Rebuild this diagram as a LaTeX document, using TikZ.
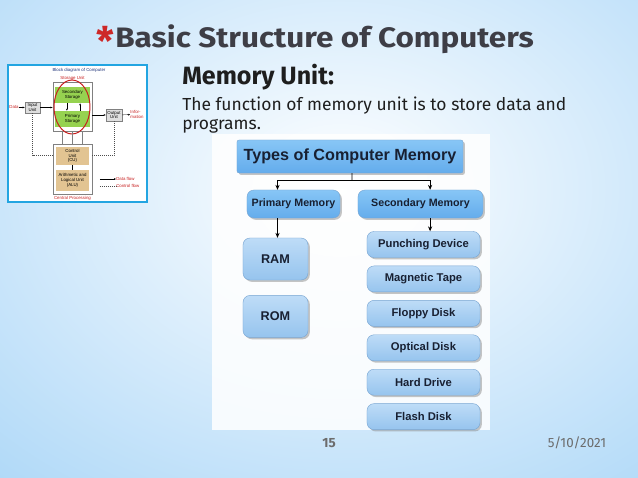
\documentclass[tikz,border=0pt]{standalone}
\usepackage{fontspec}
\setmainfont{Fira Sans}
\newfontfamily\titlefont[FakeStretch=1.12]{Fira Sans}
\newfontfamily\diagfont{Liberation Sans}
\usetikzlibrary{positioning,arrows.meta,shadows,calc}
\definecolor{slideblue}{RGB}{145,202,245}
\definecolor{titlegray}{RGB}{62,62,70}
\definecolor{bodygray}{RGB}{30,30,30}
\definecolor{starred}{RGB}{205,40,40}
\definecolor{headtop}{RGB}{135,198,246}
\definecolor{headbot}{RGB}{100,172,236}
\definecolor{leaftop}{RGB}{190,220,247}
\definecolor{leafbot}{RGB}{150,196,238}
\definecolor{memedge}{RGB}{120,165,210}
\definecolor{memtext}{RGB}{24,32,50}
\definecolor{framecyan}{RGB}{35,165,225}
\definecolor{unitgreen}{RGB}{150,210,80}
\definecolor{unittan}{RGB}{226,196,146}
\definecolor{labelred}{RGB}{200,30,30}
\definecolor{labelblue}{RGB}{30,50,120}
\colorlet{unitgray}{gray!25}
\tikzset{
  memshadow/.style={drop shadow={shadow xshift=1.3pt,shadow yshift=-1.3pt,fill=black!45,opacity=.5}},
  headbox/.style={draw=memedge,line width=.3pt,rounded corners=1.5pt,top color=headtop,bottom color=headbot,memshadow,
    text=memtext,font=\diagfont\bfseries\fontsize{11.5}{13}\selectfont,inner sep=0pt},
  kindbox/.style={headbox,rounded corners=5pt,font=\diagfont\bfseries\fontsize{7.6}{9}\selectfont},
  leafbox/.style={kindbox,top color=leaftop,bottom color=leafbot,font=\diagfont\bfseries\fontsize{8}{9}\selectfont},
  ramrom/.style={leafbox,font=\diagfont\bfseries\fontsize{9}{10}\selectfont,minimum width=1.625cm,minimum height=1.05cm},
  memarrow/.style={-{Stealth[length=3.5pt,width=3pt]},line width=.7pt},
  tiny/.style={font=\diagfont\fontsize{3.1}{3.4}\selectfont,align=center,inner sep=0pt},
  unitbox/.style={tiny,draw=gray,line width=.4pt,fill=unitgray},
  flowline/.style={-{Stealth[length=1.5pt,width=1.3pt]},line width=.3pt},
  ctrlline/.style={densely dotted,line width=.4pt,draw=black!70}
}

\begin{document}
\begin{tikzpicture}[x=0.025cm,y=-0.025cm]
  \useasboundingbox (0,0) rectangle (638,478);
  % slide background
  \fill[slideblue] (0,0) rectangle (638,478);
  \begin{scope}
    \clip (0,0) rectangle (638,478);
    \shade[inner color=white,outer color=slideblue] (340,190) ellipse [x radius=720,y radius=540];
  \end{scope}

  % title
  \node[text=starred,font=\bfseries\fontsize{28}{28}\selectfont,inner sep=0pt] (star) at (105,41) {*};
  \node[anchor=base west,inner sep=0pt,text=titlegray,font=\titlefont\bfseries\fontsize{20}{22}\selectfont] (title) at (115,48) {Basic Structure of Computers};

  % small block diagram
  \draw[line width=2pt,draw=framecyan,fill=white] (8,65) rectangle (147,202);
  \node[tiny,text=labelblue] (bdtitle) at (79,70) {Block diagram of Computer};
  \node[tiny,text=labelred] (storlbl) at (72.5,78.5) {Storage Unit};
  \node[draw=gray,line width=.6pt,fill=white,minimum width=.975cm,minimum height=1.225cm] (stor) at (72.5,106.5) {};
  \node[tiny,fill=unitgreen,minimum width=.875cm,minimum height=.4cm] (secst) at (72.5,95) {Secondary\\Storage};
  \node[tiny,fill=unitgreen,minimum width=.875cm,minimum height=.4cm] (primst) at (72.5,119) {Primary\\Storage};
  \draw[flowline] ([xshift=-.14cm]secst.south) -- ([xshift=-.14cm]primst.north);
  \draw[flowline] ([xshift=.19cm]primst.north) -- ([xshift=.19cm]secst.south);
  \draw[labelred,line width=.7pt] (72,107) ellipse [x radius=18,y radius=27];
  \node[unitbox,minimum width=.375cm,minimum height=.275cm] (inp) at (32.5,107.5) {Input\\Unit};
  \node[tiny,text=labelred] (datalbl) at (14,107.5) {Data};
  \node[unitbox,minimum width=.4cm,minimum height=.3cm] (outp) at (114,115) {Output\\Unit};
  \node[tiny,text=labelred,align=left] (infolbl) at (137,114.5) {Infor-\\mation};
  \draw[flowline] (datalbl) -- (inp);
  \draw[flowline] (inp) -- (inp -| stor.west);
  \draw[flowline] (stor.east |- outp) -- (outp);
  \draw[flowline] (outp) -- (infolbl);
  \node[draw=gray,line width=.6pt,fill=white,minimum width=.975cm,minimum height=1.25cm] (cpu) at (72.5,169) {};
  \node[tiny,fill=unittan,minimum width=.825cm,minimum height=.45cm] (cu) at (72.5,156) {Control\\Unit\\(CU)};
  \node[tiny,fill=unittan,minimum width=.825cm,minimum height=.525cm] (alu) at (72.5,180.5) {Arithmetic and\\Logical Unit\\(ALU)};
  \draw[line width=.3pt] (cu) -- (alu);
  \node[tiny,text=labelred] (cpulbl) at (72.5,198) {Central Processing};
  \foreach \dx in {-.25,0,.25}
    \draw[line width=.5pt,gray] ([xshift=\dx cm]stor.south) -- ([xshift=\dx cm]cpu.north);
  \draw[ctrlline] (inp.south) |- (cpu.west |- 0,155);
  \draw[ctrlline] (outp.south) |- (cpu.east |- 0,155);
  \node[tiny,text=labelred,anchor=west] (dflow) at (116,179) {Data flow};
  \node[tiny,text=labelred,anchor=west] (cflow) at (116,186) {Control flow};
  \draw[flowline] ([xshift=-.4cm]dflow.west) -- (dflow.west);
  \draw[ctrlline] ([xshift=-.4cm]cflow.west) -- (cflow.west);

  % text
  \node[anchor=base west,inner sep=0pt,text=bodygray,font=\bfseries\fontsize{17.8}{19}\selectfont] (memhead) at (182,85) {Memory Unit:};
  \node[anchor=base west,inner sep=0pt,align=left,text=bodygray,font=\fontsize{12.4}{13.8}\selectfont] (memtext) at (182,130)
    {The function of memory unit is to store data and\\programs.};

  % types of memory
  \fill[white,opacity=.85] (212,134) rectangle (490,430);
  \node[headbox,minimum width=5.65cm,minimum height=.825cm] (types) at (350,156.5) {Types of Computer Memory};
  \node[kindbox,minimum width=2.325cm,minimum height=.7cm] (prim) at (293.5,204) {Primary Memory};
  \node[kindbox,minimum width=3.125cm,minimum height=.7cm] (sec) at (420.5,204) {Secondary Memory};
  \node[ramrom] (ram) at (275.5,259) {RAM};
  \node[ramrom,below=.375cm of ram] (rom) {ROM};
  \node[leafbox,minimum width=2.825cm,minimum height=.65cm] (punch) at (423.5,244.5) {Punching Device};
  \node[leafbox,minimum width=2.825cm,minimum height=.65cm,below=.2cm of punch] (tape) {Magnetic Tape};
  \node[leafbox,minimum width=2.825cm,minimum height=.65cm,below=.2cm of tape] (floppy) {Floppy Disk};
  \node[leafbox,minimum width=2.825cm,minimum height=.65cm,below=.2cm of floppy] (optical) {Optical Disk};
  \node[leafbox,minimum width=2.825cm,minimum height=.65cm,below=.2cm of optical] (hdd) {Hard Drive};
  \node[leafbox,minimum width=2.825cm,minimum height=.65cm,below=.2cm of hdd] (flash) {Flash Disk};
  \coordinate (split) at (352,180);
  \draw[line width=.7pt] ([xshift=.05cm]types.south) -- (split);
  \draw[memarrow] (split) -| ([xshift=-.4cm]prim.north);
  \draw[memarrow] (split) -| ([xshift=.24cm]sec.north);
  \draw[memarrow] ([xshift=-.4cm]prim.south) -- ([xshift=-.4cm]prim.south |- ram.north);
  \draw[memarrow] ([xshift=.24cm]sec.south) -- ([xshift=.24cm]sec.south |- punch.north);

  % footer
  \node[anchor=base,inner sep=0pt,text=gray!85!black,font=\bfseries\fontsize{9.5}{10}\selectfont] (pageno) at (329,447) {15};
  \node[anchor=base,inner sep=0pt,text=gray!85!black,font=\fontsize{9.5}{10}\selectfont] (date) at (577,447) {5/10/2021};
\end{tikzpicture}
\end{document}
